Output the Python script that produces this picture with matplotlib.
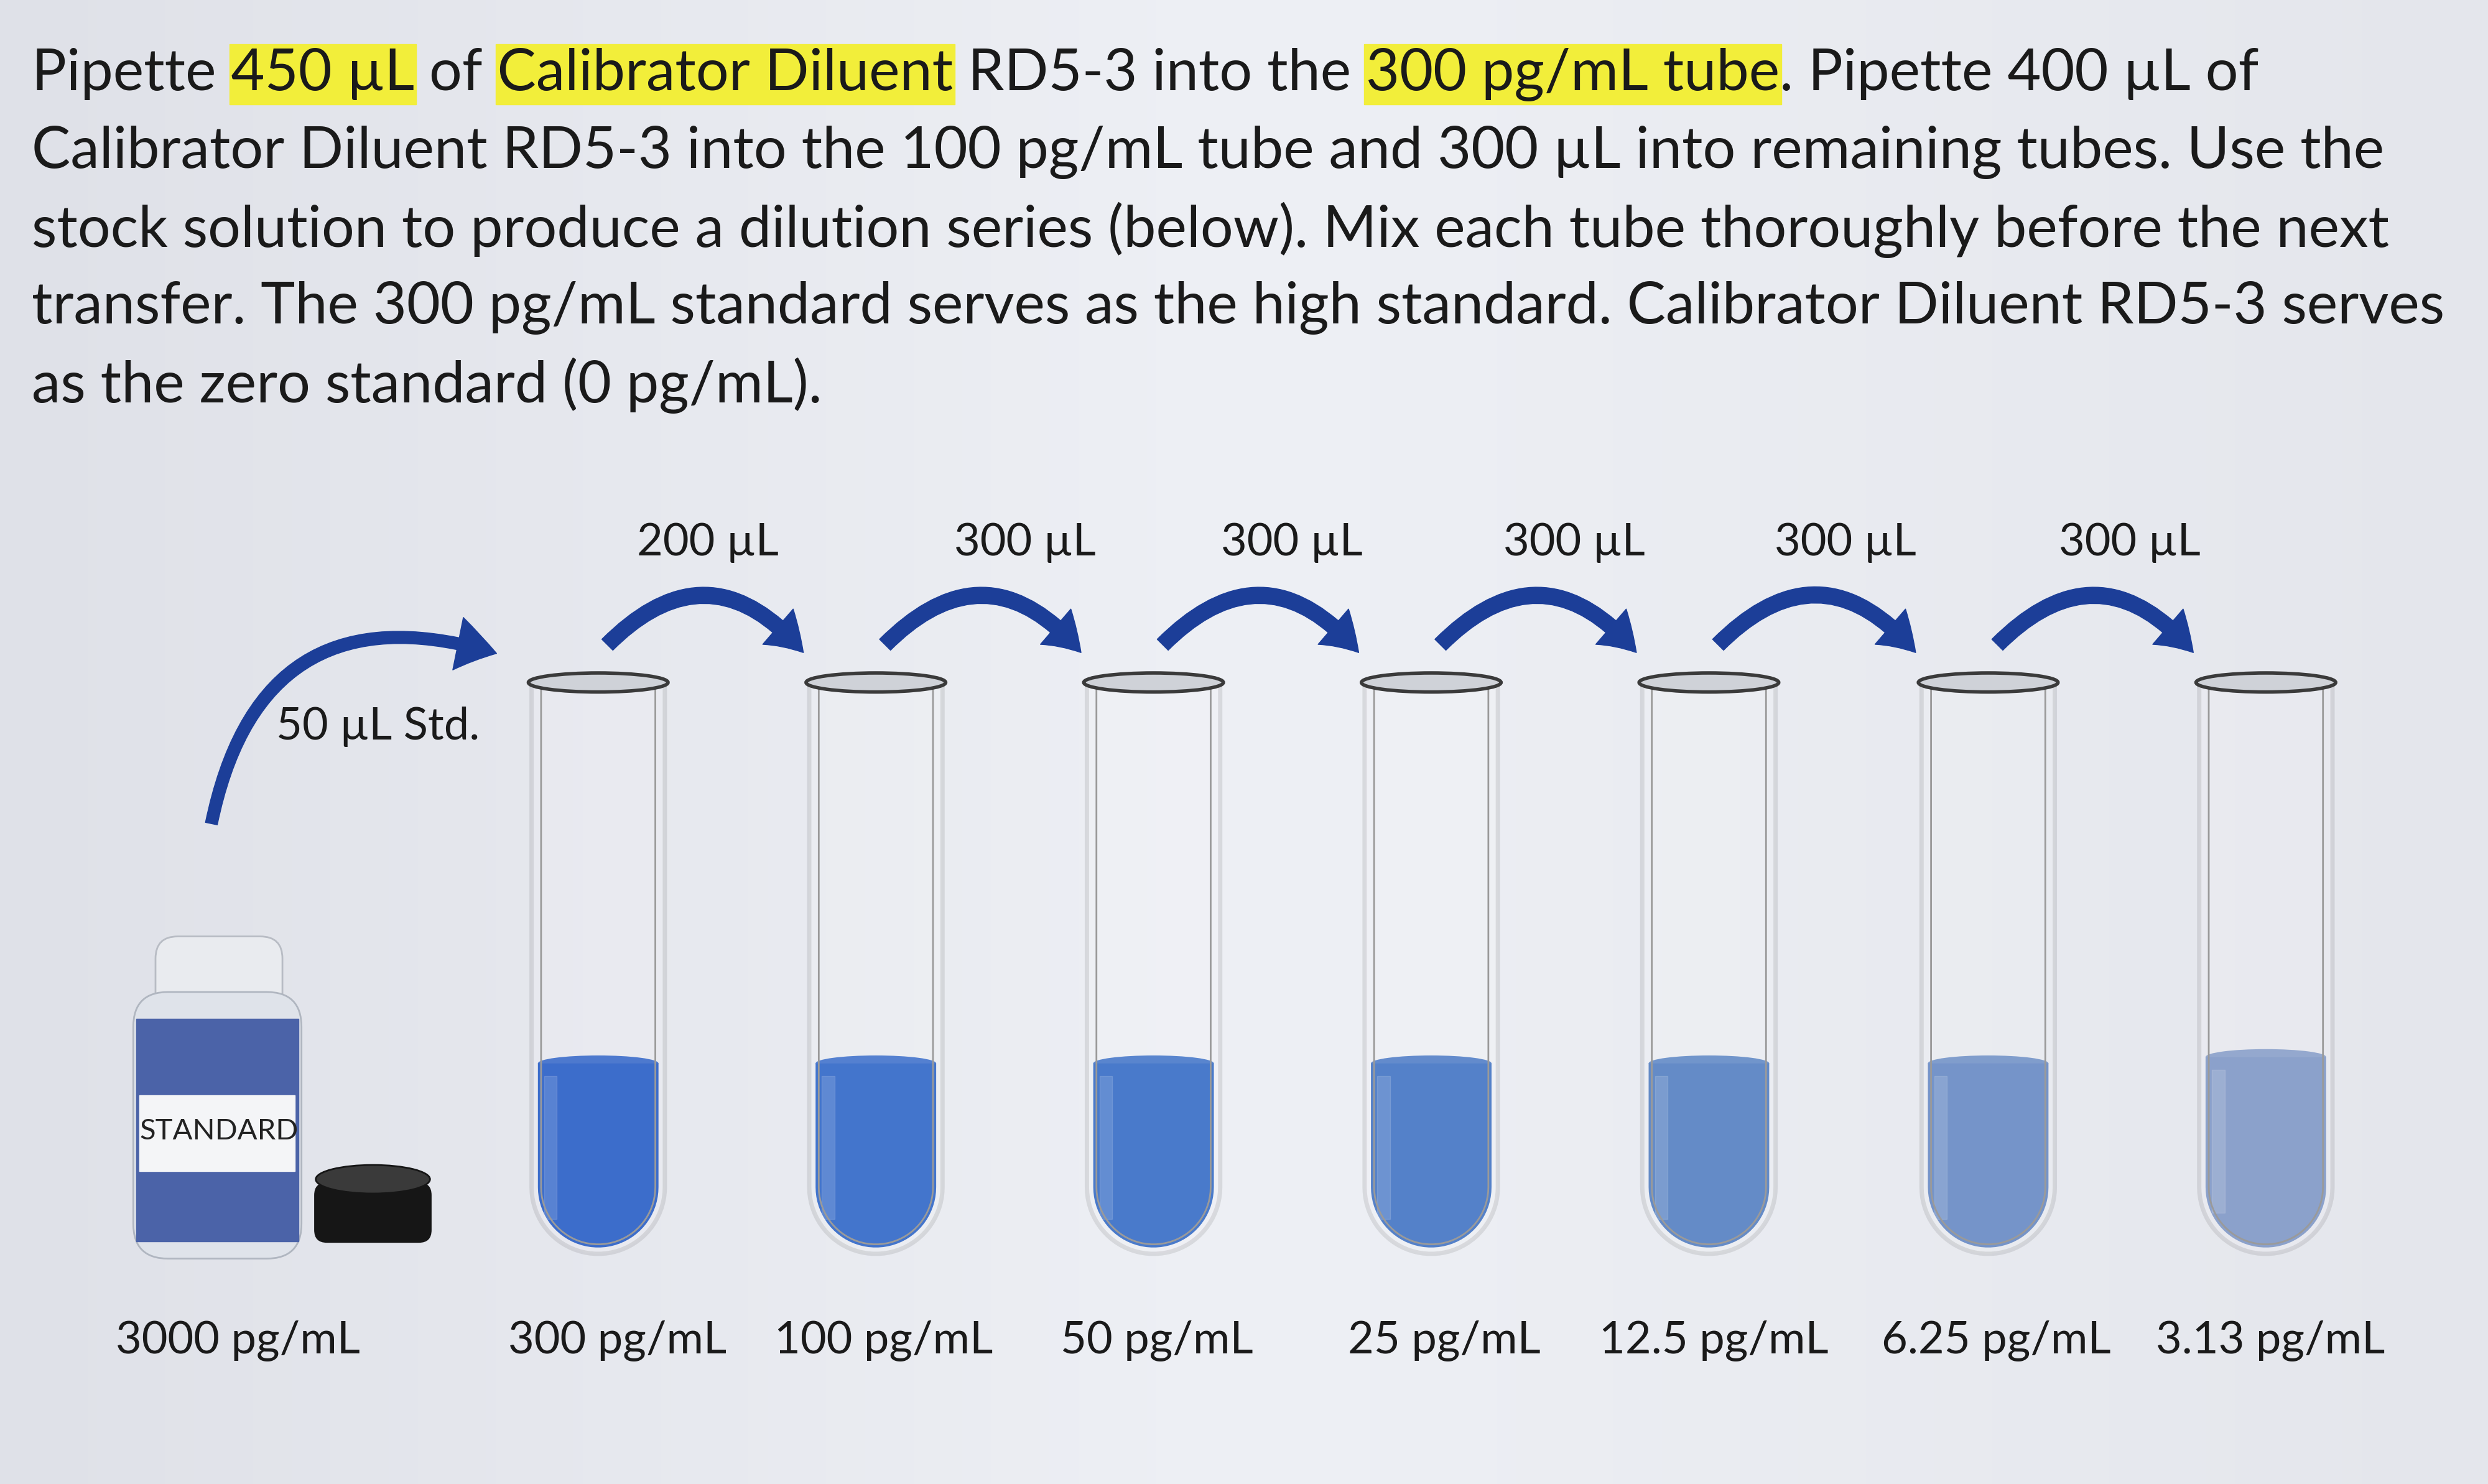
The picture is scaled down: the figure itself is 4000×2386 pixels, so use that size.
import numpy as np
import matplotlib
matplotlib.use("Agg")
import matplotlib.pyplot as plt
from matplotlib.patches import FancyArrowPatch, Ellipse, Rectangle, FancyBboxPatch, PathPatch
from matplotlib.path import Path

# text of the instruction paragraph
text_lines = [
    "Pipette 450 µL of Calibrator Diluent RD5-3 into the 300 pg/mL tube. Pipette 400 µL of",
    "Calibrator Diluent RD5-3 into the 100 pg/mL tube and 300 µL into remaining tubes. Use the",
    "stock solution to produce a dilution series (below). Mix each tube thoroughly before the next",
    "transfer. The 300 pg/mL standard serves as the high standard. Calibrator Diluent RD5-3 serves",
    "as the zero standard (0 pg/mL).",
]
highlights = ["450 µL", "Calibrator Diluent", "300 pg/mL tube"]

concentrations = ["300 pg/mL", "100 pg/mL", "50 pg/mL", "25 pg/mL", "12.5 pg/mL", "6.25 pg/mL", "3.13 pg/mL"]
transfer_vols = ["200 µL", "300 µL", "300 µL", "300 µL", "300 µL", "300 µL"]
liquid_colors = ["#2259c4", "#2a62c6", "#3068c4", "#3d70c2", "#4f7cc0", "#6286c2", "#7c95c4"]
stock_label = "3000 pg/mL"
std_volume = "50 µL Std."

W, H = 1568, 935
fig = plt.figure(figsize=(40, 23.86), dpi=100)
ax = fig.add_axes([0, 0, 1, 1])
ax.set_xlim(0, W)
ax.set_ylim(H, 0)
ax.axis("off")

# background gradient
grad = np.linspace(0, 1, 256).reshape(1, -1)
bg = matplotlib.colors.LinearSegmentedColormap.from_list("bg", ["#dfe1e8", "#eef0f5", "#e4e6ec"])
ax.imshow(grad, extent=[0, W, H, 0], cmap=bg, aspect="auto", zorder=0)

FONT = "Lato"
fs = 67.2
small = 52
fig.canvas.draw()
renderer = fig.canvas.get_renderer()
inv = ax.transData.inverted()


def text_width(s):
    t = ax.text(0, 0, s, fontsize=fs, family=FONT)
    bb = t.get_window_extent(renderer)
    t.remove()
    x0 = inv.transform((bb.x0, 0))[0]
    x1 = inv.transform((bb.x1, 0))[0]
    return x1 - x0


y0, dy = 47, 49
for i, line in enumerate(text_lines):
    y = y0 + i * dy
    if i == 0:
        for h in highlights:
            k = line.index(h)
            xs = 20 + text_width(line[:k]) if k else 20
            w = text_width(h)
            ax.add_patch(Rectangle((xs - 1, y - 19), w + 2, 38, color="#f2ee3a", zorder=1))
    ax.text(20, y, line, fontsize=fs, family=FONT, va="center", ha="left", color="#1a1a1a", zorder=2)

# tubes
tube_x = [377, 552, 727, 902, 1077, 1253, 1428]
label_x = [389, 557, 729, 910, 1080, 1258, 1431]
vol_x = [446, 646, 814, 992, 1163, 1342]
top, bottom, half = 430, 790, 42
liquid_top = [670, 670, 670, 670, 670, 670, 666]


def u_path(cx, ytop, hw, ybot):
    r = hw
    theta = np.linspace(np.pi, 0, 40)
    pts = [(cx - hw, ytop), (cx - hw, ybot - r)]
    pts += [(cx + r * np.cos(t), ybot - r + r * np.sin(t)) for t in theta]
    pts += [(cx + hw, ybot - r), (cx + hw, ytop)]
    return Path(pts)


for i, cx in enumerate(tube_x):
    ax.add_patch(PathPatch(u_path(cx, liquid_top[i], half - 4, bottom - 4), facecolor=liquid_colors[i],
                           edgecolor="none", zorder=3))
    ax.add_patch(Ellipse((cx, liquid_top[i]), 2 * (half - 4), 10, facecolor=liquid_colors[i],
                         edgecolor="none", zorder=3, alpha=0.9))
    ax.add_patch(Rectangle((cx - half + 8, liquid_top[i] + 8), 8, 90, color="white", alpha=0.15, zorder=4))
    ax.add_patch(PathPatch(u_path(cx, top, half, bottom), facecolor="white", alpha=0.12,
                           edgecolor="#3a3a3a", lw=5, zorder=4))
    ax.add_patch(PathPatch(u_path(cx, top, half - 6, bottom - 6), facecolor="none",
                           edgecolor="#9a9a9a", lw=2, zorder=4))
    ax.add_patch(Ellipse((cx, top), 2 * half + 4, 12, facecolor="#cfd2d8", edgecolor="#3a3a3a", lw=4, zorder=5))
    ax.text(label_x[i], 845, concentrations[i], fontsize=small, family=FONT,
            ha="center", va="center", color="#1a1a1a")

# transfer arrows
arrow_color = "#1c3e98"
for i in range(len(transfer_vols)):
    a, b = tube_x[i], tube_x[i + 1]
    ax.add_patch(FancyArrowPatch((a + 5, 407), (b - 45, 412), connectionstyle="arc3,rad=-0.55",
                                 arrowstyle="simple,head_width=54,head_length=42,tail_width=18",
                                 color=arrow_color, mutation_scale=1, zorder=5))
    ax.text(vol_x[i], 342, transfer_vols[i], fontsize=small, family=FONT,
            ha="center", va="center", color="#1a1a1a")

# big arrow from the stock bottle
ax.add_patch(FancyArrowPatch((133, 520), (314, 412), connectionstyle="arc3,rad=-0.55",
                             arrowstyle="simple,head_width=62,head_length=46,tail_width=14",
                             color=arrow_color, mutation_scale=1, zorder=5))
ax.text(238, 458, std_volume, fontsize=small, family=FONT, ha="center", va="center", color="#1a1a1a")

# stock bottle
ax.add_patch(FancyBboxPatch((98, 590), 80, 50, boxstyle="round,pad=0,rounding_size=14",
                            facecolor="#e9ebef", edgecolor="#b8bcc4", lw=2, zorder=3))
ax.add_patch(FancyBboxPatch((84, 625), 106, 168, boxstyle="round,pad=0,rounding_size=22",
                            facecolor="#dfe3ea", edgecolor="#b0b6c0", lw=2, zorder=3))
ax.add_patch(Rectangle((86, 642), 102, 140, color="#4b63a8", zorder=4))
ax.add_patch(Rectangle((88, 690), 98, 48, color="#f4f5f7", zorder=5))
ax.text(138, 713, "STANDARD", fontsize=34, family=FONT, ha="center", va="center",
        color="#222222", zorder=6)
ax.add_patch(FancyBboxPatch((198, 745), 74, 38, boxstyle="round,pad=0,rounding_size=8",
                            facecolor="#161616", edgecolor="none", zorder=4))
ax.add_patch(Ellipse((235, 743), 72, 18, facecolor="#3a3a3a", edgecolor="#161616", lw=2, zorder=5))
ax.text(150, 845, stock_label, fontsize=small, family=FONT, ha="center", va="center", color="#1a1a1a")

fig.savefig("out.png", dpi=100)
